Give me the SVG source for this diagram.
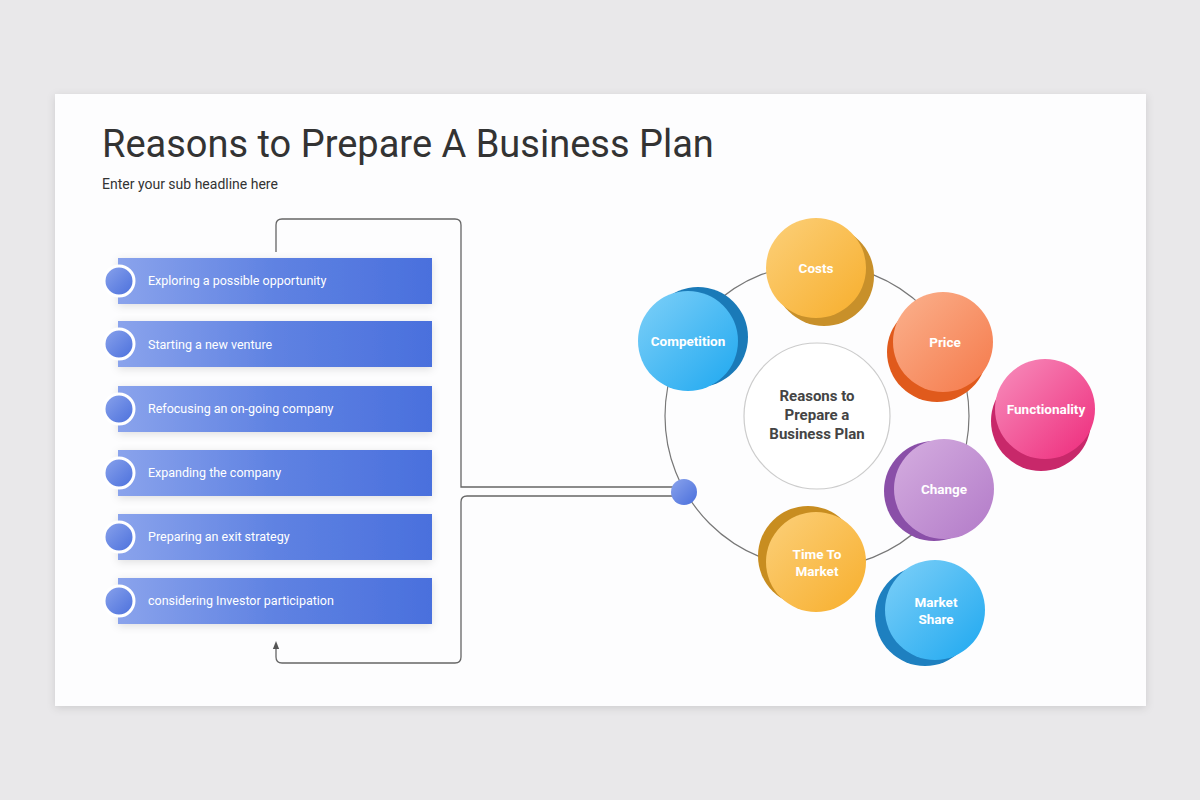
<svg xmlns="http://www.w3.org/2000/svg" width="1200" height="800" viewBox="0 0 1200 800">
<defs>
<linearGradient id="bar" x1="0" x2="1"><stop offset="0" stop-color="#8aa3ec"/><stop offset="0.5" stop-color="#5f82e2"/><stop offset="1" stop-color="#4a70dd"/></linearGradient>
<linearGradient id="dot" x1="0" y1="0" x2="1" y2="1"><stop offset="0" stop-color="#8aa3ec"/><stop offset="1" stop-color="#4a6fdc"/></linearGradient>
<linearGradient id="gCost" x1="0" y1="0" x2="1" y2="1"><stop offset="0" stop-color="#fcd07a"/><stop offset="1" stop-color="#f7ae2c"/></linearGradient>
<linearGradient id="gPrice" x1="0" y1="0" x2="1" y2="1"><stop offset="0" stop-color="#fbb28e"/><stop offset="1" stop-color="#f5794a"/></linearGradient>
<linearGradient id="gFunc" x1="0" y1="0" x2="1" y2="1"><stop offset="0" stop-color="#f78fbd"/><stop offset="1" stop-color="#ee2a7b"/></linearGradient>
<linearGradient id="gChange" x1="0" y1="0" x2="1" y2="1"><stop offset="0" stop-color="#d5aee0"/><stop offset="1" stop-color="#b27ac8"/></linearGradient>
<linearGradient id="gBlue" x1="0" y1="0" x2="1" y2="1"><stop offset="0" stop-color="#7fd0f8"/><stop offset="1" stop-color="#1ea8f0"/></linearGradient>
<marker id="ar" viewBox="0 0 10 10" refX="5" refY="5" markerWidth="6" markerHeight="6" orient="auto"><path d="M0,1 L10,5 L0,9 Z" fill="#555"/></marker>
<filter id="sh" x="-20%" y="-20%" width="140%" height="140%"><feDropShadow dx="0" dy="2" stdDeviation="4" flood-color="#000" flood-opacity="0.12"/></filter>
</defs>
<style>
.item{font-family:Roboto,"Liberation Sans",sans-serif;font-size:12.5px;fill:#fff}
.lbl{font-family:Roboto,"Liberation Sans",sans-serif;font-size:13.5px;font-weight:bold;fill:#fff;text-anchor:middle}
.conn{fill:none;stroke:#666;stroke-width:1.3}
</style>
<rect width="1200" height="800" fill="#e9e8ea"/>
<rect x="55" y="94" width="1091" height="612" fill="#fdfdfe" filter="url(#sh)"/>
<text x="102" y="157" font-family="Roboto,'Liberation Sans',sans-serif" font-size="38" fill="#333">Reasons to Prepare A Business Plan</text>
<text x="102" y="189" font-family="Roboto,'Liberation Sans',sans-serif" font-size="14" fill="#333">Enter your sub headline here</text>
<g id="connectors">
<path class="conn" d="M276,252 V225 Q276,219 282,219 H455 Q461,219 461,225 V487 H684" marker-end="url(#ar)" transform="none"/>
<path class="conn" d="M684,496 H467 Q461,496 461,502 V657 Q461,663 455,663 H282 Q276,663 276,657 V645" marker-end="url(#ar)"/>
<circle cx="817" cy="416" r="152" fill="none" stroke="#777" stroke-width="1.2"/>
<circle cx="684" cy="492" r="13" fill="url(#dot)"/>
</g>
<g id="items">
<g id="i1"><rect x="118" y="258" width="314" height="46" fill="url(#bar)" filter="url(#sh)"/><circle cx="119" cy="281" r="15" fill="url(#dot)" stroke="#fff" stroke-width="3"/><text class="item" x="148" y="285">Exploring a possible opportunity</text></g>
<g id="i2"><rect x="118" y="321" width="314" height="46" fill="url(#bar)" filter="url(#sh)"/><circle cx="119" cy="344" r="15" fill="url(#dot)" stroke="#fff" stroke-width="3"/><text class="item" x="148" y="349">Starting a new venture</text></g>
<g id="i3"><rect x="118" y="386" width="314" height="46" fill="url(#bar)" filter="url(#sh)"/><circle cx="119" cy="409" r="15" fill="url(#dot)" stroke="#fff" stroke-width="3"/><text class="item" x="148" y="413">Refocusing an on-going company</text></g>
<g id="i4"><rect x="118" y="450" width="314" height="46" fill="url(#bar)" filter="url(#sh)"/><circle cx="119" cy="473" r="15" fill="url(#dot)" stroke="#fff" stroke-width="3"/><text class="item" x="148" y="477">Expanding the company</text></g>
<g id="i5"><rect x="118" y="514" width="314" height="46" fill="url(#bar)" filter="url(#sh)"/><circle cx="119" cy="537" r="15" fill="url(#dot)" stroke="#fff" stroke-width="3"/><text class="item" x="148" y="541">Preparing an exit strategy</text></g>
<g id="i6"><rect x="118" y="578" width="314" height="46" fill="url(#bar)" filter="url(#sh)"/><circle cx="119" cy="601" r="15" fill="url(#dot)" stroke="#fff" stroke-width="3"/><text class="item" x="148" y="605">considering Investor participation</text></g>
</g>
<g id="center"><circle cx="817" cy="416" r="73" fill="#fff" stroke="#ccc" stroke-width="1.2"/>
<text x="817" y="401" text-anchor="middle" font-family="Roboto,'Liberation Sans',sans-serif" font-size="15" font-weight="bold" fill="#444">Reasons to</text>
<text x="817" y="420" text-anchor="middle" font-family="Roboto,'Liberation Sans',sans-serif" font-size="15" font-weight="bold" fill="#444">Prepare a</text>
<text x="817" y="439" text-anchor="middle" font-family="Roboto,'Liberation Sans',sans-serif" font-size="15" font-weight="bold" fill="#444">Business Plan</text></g>
<g id="costs"><circle cx="824" cy="276" r="50" fill="#c8902a"/><circle cx="816" cy="268" r="50" fill="url(#gCost)"/><text class="lbl" x="816" y="273">Costs</text></g>
<g id="price"><circle cx="937" cy="352" r="50" fill="#e05a1c"/><circle cx="943" cy="342" r="50" fill="url(#gPrice)"/><text class="lbl" x="945" y="347">Price</text></g>
<g id="functionality"><circle cx="1041" cy="421" r="50" fill="#c8286a"/><circle cx="1045" cy="409" r="50" fill="url(#gFunc)"/><text class="lbl" x="1046" y="414">Functionality</text></g>
<g id="change"><circle cx="934" cy="491" r="50" fill="#8a4fa8"/><circle cx="944" cy="489" r="50" fill="url(#gChange)"/><text class="lbl" x="944" y="494">Change</text></g>
<g id="timetomarket"><circle cx="808" cy="556" r="50" fill="#c88d20"/><circle cx="816" cy="562" r="50" fill="url(#gCost)"/><text class="lbl" x="817" y="559">Time To</text><text class="lbl" x="817" y="576">Market</text></g>
<g id="marketshare"><circle cx="925" cy="616" r="50" fill="#1e80c0"/><circle cx="935" cy="610" r="50" fill="url(#gBlue)"/><text class="lbl" x="936" y="607">Market</text><text class="lbl" x="936" y="624">Share</text></g>
<g id="competition"><circle cx="698" cy="337" r="50" fill="#1a7ab8"/><circle cx="688" cy="341" r="50" fill="url(#gBlue)"/><text class="lbl" x="688" y="346">Competition</text></g>
</svg>
